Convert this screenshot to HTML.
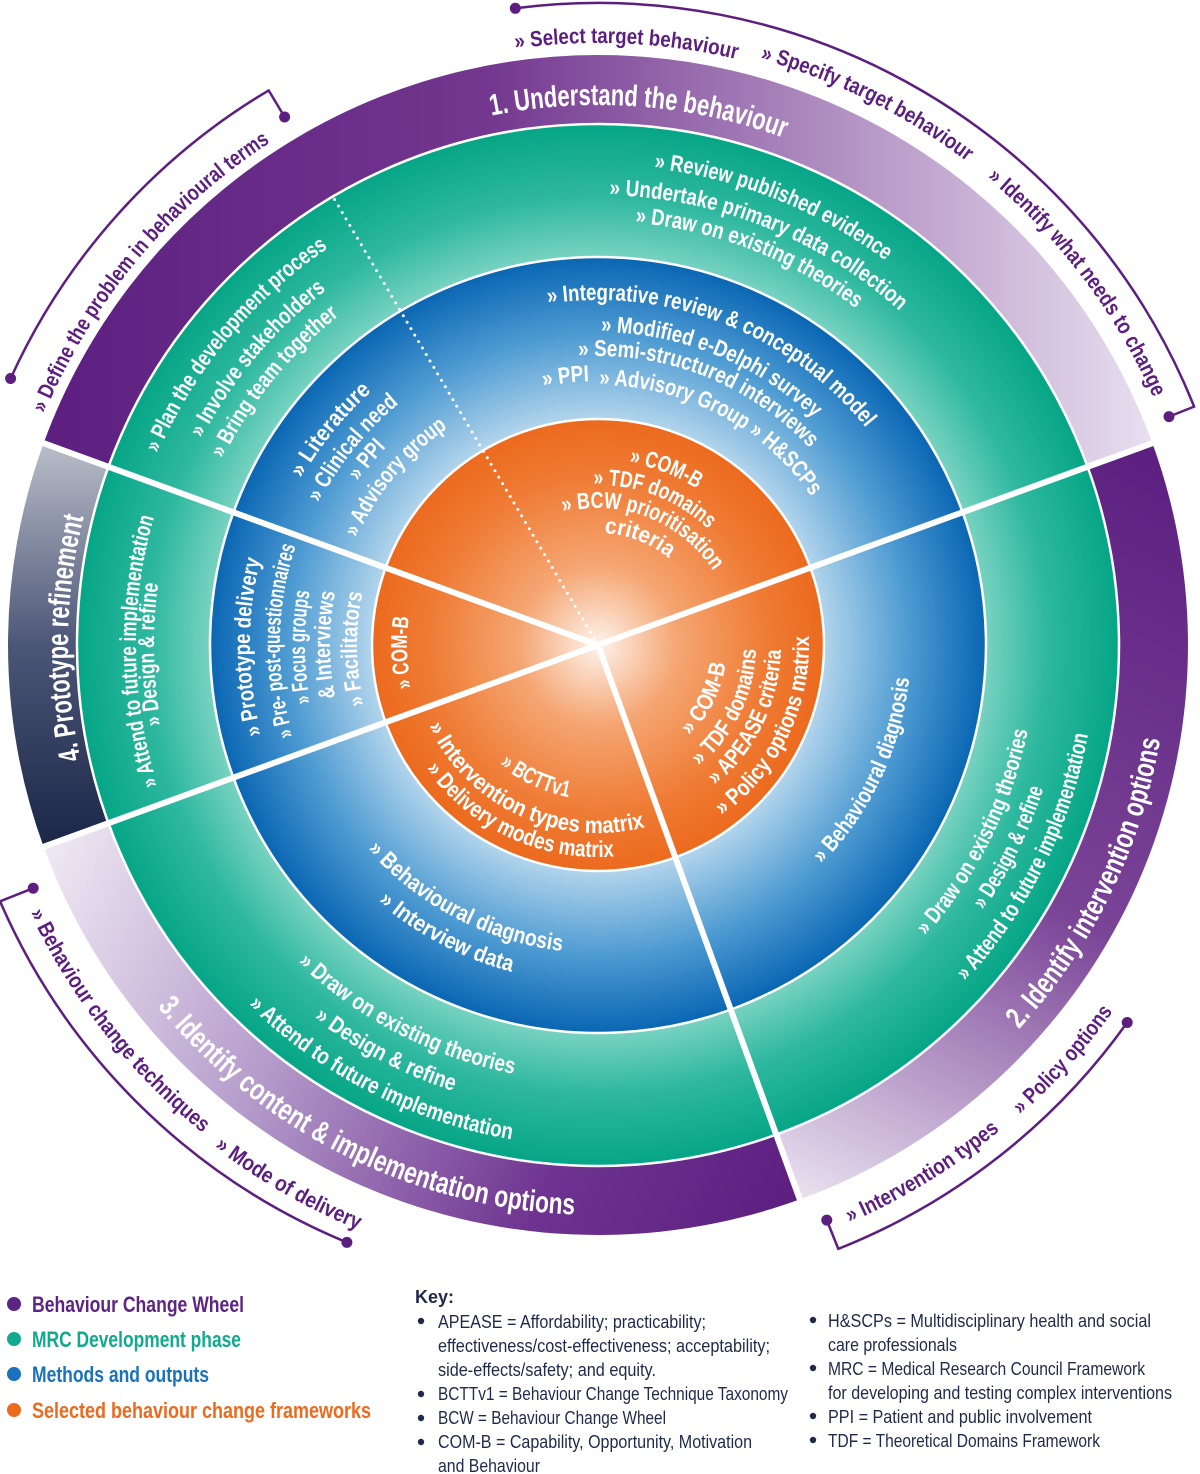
<!DOCTYPE html>
<html><head><meta charset="utf-8"><style>
html,body{margin:0;padding:0;background:#fff;}
svg{display:block;}
.w{fill:#fff;font-family:"Liberation Sans Narrow","Liberation Sans",sans-serif;font-weight:bold;font-size:23px;}
.t{fill:#fff;font-family:"Liberation Sans Narrow","Liberation Sans",sans-serif;font-weight:bold;font-size:30px;}
.p{fill:#5c1f80;font-family:"Liberation Sans Narrow","Liberation Sans",sans-serif;font-weight:bold;font-size:22px;}
.lg{font-family:"Liberation Sans Narrow","Liberation Sans",sans-serif;font-weight:bold;font-size:22px;}
.k{fill:#1f2a4a;font-family:"Liberation Sans Narrow","Liberation Sans",sans-serif;font-size:18px;}
</style></head><body>
<svg width="1200" height="1474" viewBox="0 0 1200 1474" xmlns="http://www.w3.org/2000/svg">
<defs>
<radialGradient id="gOr" gradientUnits="userSpaceOnUse" cx="598" cy="645" r="226">
<stop offset="0" stop-color="#fdf3ec"/><stop offset="0.35" stop-color="#f5a673"/><stop offset="0.75" stop-color="#ef7b34"/><stop offset="1" stop-color="#ec6a1e"/></radialGradient>
<radialGradient id="gBl" gradientUnits="userSpaceOnUse" cx="598" cy="645" r="388">
<stop offset="0.58" stop-color="#b3d5ec"/><stop offset="0.8" stop-color="#4e9bd2"/><stop offset="1" stop-color="#0a66b3"/></radialGradient>
<radialGradient id="gGr" gradientUnits="userSpaceOnUse" cx="598" cy="645" r="522">
<stop offset="0.74" stop-color="#7ad3c2"/><stop offset="0.86" stop-color="#2eb89f"/><stop offset="1" stop-color="#05a586"/></radialGradient>
<linearGradient id="s1" gradientUnits="userSpaceOnUse" x1="40" y1="300" x2="1155" y2="300">
<stop offset="0" stop-color="#5c1f80"/><stop offset="0.4" stop-color="#73378f"/><stop offset="1" stop-color="#e9e0f0"/></linearGradient>
<linearGradient id="s2" gradientUnits="userSpaceOnUse" x1="1150" y1="445" x2="790" y2="1200">
<stop offset="0" stop-color="#5c1f80"/><stop offset="0.55" stop-color="#7a4497"/><stop offset="1" stop-color="#ebe4f1"/></linearGradient>
<linearGradient id="s3" gradientUnits="userSpaceOnUse" x1="40" y1="850" x2="800" y2="1200">
<stop offset="0" stop-color="#f0eaf5"/><stop offset="0.35" stop-color="#b59ccb"/><stop offset="0.72" stop-color="#6e3390"/><stop offset="1" stop-color="#5c1f80"/></linearGradient>
<linearGradient id="s4" gradientUnits="userSpaceOnUse" x1="60" y1="445" x2="60" y2="845">
<stop offset="0" stop-color="#b8bdc8"/><stop offset="0.5" stop-color="#4c5677"/><stop offset="1" stop-color="#1b2748"/></linearGradient>
<path id="cw540" d="M598 1185 A540 540 0 1 1 598 105 A540 540 0 1 1 598 1185"/>
<path id="cw602" d="M598 1247 A602 602 0 1 1 598 43 A602 602 0 1 1 598 1247"/>
<path id="cw608" d="M598 1253 A608 608 0 1 1 598 37 A608 608 0 1 1 598 1253"/>
<path id="cw600" d="M598 1245 A600 600 0 1 1 598 45 A600 600 0 1 1 598 1245"/>
<path id="cw480" d="M598 1125 A480 480 0 1 1 598 165 A480 480 0 1 1 598 1125"/>
<path id="cw450" d="M598 1095 A450 450 0 1 1 598 195 A450 450 0 1 1 598 1095"/>
<path id="cw424" d="M598 1069 A424 424 0 1 1 598 221 A424 424 0 1 1 598 1069"/>
<path id="cw447" d="M598 1092 A447 447 0 1 1 598 198 A447 447 0 1 1 598 1092"/>
<path id="cw419" d="M598 1064 A419 419 0 1 1 598 226 A419 419 0 1 1 598 1064"/>
<path id="cw340" d="M598 985 A340 340 0 1 1 598 305 A340 340 0 1 1 598 985"/>
<path id="cw313" d="M598 958 A313 313 0 1 1 598 332 A313 313 0 1 1 598 958"/>
<path id="cw290" d="M598 935 A290 290 0 1 1 598 355 A290 290 0 1 1 598 935"/>
<path id="cw264" d="M598 909 A264 264 0 1 1 598 381 A264 264 0 1 1 598 909"/>
<path id="cw345" d="M598 990 A345 345 0 1 1 598 300 A345 345 0 1 1 598 990"/>
<path id="cw289" d="M598 934 A289 289 0 1 1 598 356 A289 289 0 1 1 598 934"/>
<path id="cw260" d="M598 905 A260 260 0 1 1 598 385 A260 260 0 1 1 598 905"/>
<path id="cw185" d="M598 830 A185 185 0 1 1 598 460 A185 185 0 1 1 598 830"/>
<path id="cw160" d="M598 805 A160 160 0 1 1 598 485 A160 160 0 1 1 598 805"/>
<path id="cw137" d="M598 782 A137 137 0 1 1 598 508 A137 137 0 1 1 598 782"/>
<path id="cw112" d="M598 757 A112 112 0 1 1 598 533 A112 112 0 1 1 598 757"/>
<path id="cw530" d="M598 1175 A530 530 0 1 1 598 115 A530 530 0 1 1 598 1175"/>
<path id="cw462" d="M598 1107 A462 462 0 1 1 598 183 A462 462 0 1 1 598 1107"/>
<path id="cw444" d="M598 1089 A444 444 0 1 1 598 201 A444 444 0 1 1 598 1089"/>
<path id="cw348" d="M598 993 A348 348 0 1 1 598 297 A348 348 0 1 1 598 993"/>
<path id="cw318" d="M598 963 A318 318 0 1 1 598 327 A318 318 0 1 1 598 963"/>
<path id="cw293" d="M598 938 A293 293 0 1 1 598 352 A293 293 0 1 1 598 938"/>
<path id="cw268" d="M598 913 A268 268 0 1 1 598 377 A268 268 0 1 1 598 913"/>
<path id="cw241" d="M598 886 A241 241 0 1 1 598 404 A241 241 0 1 1 598 886"/>
<path id="cw191" d="M598 836 A191 191 0 1 1 598 454 A191 191 0 1 1 598 836"/>
<path id="ccw570" d="M598 75 A570 570 0 1 0 598 1215 A570 570 0 1 0 598 75"/>
<path id="ccw630" d="M598 15 A630 630 0 1 0 598 1275 A630 630 0 1 0 598 15"/>
<path id="ccw632" d="M598 13 A632 632 0 1 0 598 1277 A632 632 0 1 0 598 13"/>
<path id="ccw628" d="M598 17 A628 628 0 1 0 598 1273 A628 628 0 1 0 598 17"/>
<path id="ccw438" d="M598 207 A438 438 0 1 0 598 1083 A438 438 0 1 0 598 207"/>
<path id="ccw468" d="M598 177 A468 468 0 1 0 598 1113 A468 468 0 1 0 598 177"/>
<path id="ccw498" d="M598 147 A498 498 0 1 0 598 1143 A498 498 0 1 0 598 147"/>
<path id="ccw313" d="M598 332 A313 313 0 1 0 598 958 A313 313 0 1 0 598 332"/>
<path id="ccw129" d="M598 516 A129 129 0 1 0 598 774 A129 129 0 1 0 598 516"/>
<path id="ccw158" d="M598 487 A158 158 0 1 0 598 803 A158 158 0 1 0 598 487"/>
<path id="ccw183" d="M598 462 A183 183 0 1 0 598 828 A183 183 0 1 0 598 462"/>
<path id="ccw211" d="M598 434 A211 211 0 1 0 598 856 A211 211 0 1 0 598 434"/>
<path id="ccw155" d="M598 490 A155 155 0 1 0 598 800 A155 155 0 1 0 598 490"/>
<path id="ccw188" d="M598 457 A188 188 0 1 0 598 833 A188 188 0 1 0 598 457"/>
<path id="ccw212" d="M598 433 A212 212 0 1 0 598 857 A212 212 0 1 0 598 433"/>
<path id="ccw308" d="M598 337 A308 308 0 1 0 598 953 A308 308 0 1 0 598 337"/>
<path id="ccw338" d="M598 307 A338 338 0 1 0 598 983 A338 338 0 1 0 598 307"/>
<path id="ccw437" d="M598 208 A437 437 0 1 0 598 1082 A437 437 0 1 0 598 208"/>
<path id="ccw469" d="M598 176 A469 469 0 1 0 598 1114 A469 469 0 1 0 598 176"/>
<path id="ccw502" d="M598 143 A502 502 0 1 0 598 1147 A502 502 0 1 0 598 143"/>
</defs>

<path d="M43.6 443.2 A590 590 0 0 1 1152.4 443.2 L1088.5 466.5 A522 522 0 0 0 107.5 466.5 Z" fill="url(#s1)"/>
<path d="M1152.4 443.2 A590 590 0 0 1 799.8 1199.4 L776.5 1135.5 A522 522 0 0 0 1088.5 466.5 Z" fill="url(#s2)"/>
<path d="M799.8 1199.4 A590 590 0 0 1 43.6 846.8 L107.5 823.5 A522 522 0 0 0 776.5 1135.5 Z" fill="url(#s3)"/>
<path d="M43.6 846.8 A590 590 0 0 1 43.6 443.2 L107.5 466.5 A522 522 0 0 0 107.5 823.5 Z" fill="url(#s4)"/>

<circle cx="598" cy="645" r="521" fill="url(#gGr)" stroke="#fff" stroke-width="2.5"/>
<circle cx="598" cy="645" r="388" fill="url(#gBl)" stroke="#fff" stroke-width="2.5"/>
<circle cx="598" cy="645" r="226" fill="url(#gOr)" stroke="#fff" stroke-width="2.5"/>

<g stroke="#fff" stroke-width="6">
<line x1="598" y1="645" x2="1154.3" y2="442.5"/>
<line x1="598" y1="645" x2="800.5" y2="1201.3"/>
<line x1="598" y1="645" x2="41.7" y2="847.5"/>
<line x1="598" y1="645" x2="41.7" y2="442.5"/>
</g>
<line x1="598" y1="645" x2="333.3" y2="197.4" stroke="#fff" stroke-width="3" stroke-dasharray="0 7.5" stroke-linecap="round"/>

<g stroke="#5c1f80" stroke-width="2.5" fill="none">
<path d="M515.3 8.3 A642 642 0 0 1 1194.1 406.6 L1169 416.6"/>
<path d="M284.6 117 L268.7 90.4 A645 645 0 0 0 10.6 378.5"/>
<path d="M33.2 888.2 L0 901.3 A648 648 0 0 0 346.9 1242.4"/>
<path d="M826.8 1220.1 L838.3 1248.9 A650 650 0 0 0 1127.2 1022.5"/>
</g>
<g fill="#5c1f80">
<circle cx="515.3" cy="8.3" r="5.5"/><circle cx="1169" cy="416.6" r="5.5"/>
<circle cx="284.6" cy="117" r="5.5"/><circle cx="10.6" cy="378.5" r="5.5"/>
<circle cx="33.2" cy="888.2" r="5.5"/><circle cx="346.9" cy="1242.4" r="5.5"/>
<circle cx="826.8" cy="1220.1" r="5.5"/><circle cx="1127.2" cy="1022.5" r="5.5"/>
</g>

<text class="t" textLength="297" lengthAdjust="spacingAndGlyphs"><textPath href="#cw540" startOffset="1589">1. Understand the behaviour</textPath></text>
<text class="t" textLength="327" lengthAdjust="spacingAndGlyphs"><textPath href="#ccw570" startOffset="2264">2. Identify intervention options</textPath></text>
<text class="t" textLength="480" lengthAdjust="spacingAndGlyphs"><textPath href="#ccw570" startOffset="1287">3. Identify content &amp; implementation options</textPath></text>
<text class="t" textLength="245" lengthAdjust="spacingAndGlyphs"><textPath href="#cw530" startOffset="717">4. Prototype refinement</textPath></text>

<text class="p" textLength="223" lengthAdjust="spacingAndGlyphs"><textPath href="#cw602" startOffset="1808">» Select target behaviour</textPath></text>
<text class="p" textLength="232" lengthAdjust="spacingAndGlyphs"><textPath href="#cw608" startOffset="2074">» Specify target behaviour</textPath></text>
<text class="p" textLength="278" lengthAdjust="spacingAndGlyphs"><textPath href="#cw608" startOffset="2332">» Identify what needs to change</textPath></text>
<text class="p" textLength="358" lengthAdjust="spacingAndGlyphs"><textPath href="#cw600" startOffset="1180">» Define the problem in behavioural terms</textPath></text>
<text class="p" textLength="177" lengthAdjust="spacingAndGlyphs"><textPath href="#ccw630" startOffset="2238">» Intervention types</textPath></text>
<text class="p" textLength="139" lengthAdjust="spacingAndGlyphs"><textPath href="#ccw632" startOffset="2448">» Policy options</textPath></text>
<text class="p" textLength="282" lengthAdjust="spacingAndGlyphs"><textPath href="#ccw628" startOffset="1263">» Behaviour change techniques</textPath></text>
<text class="p" textLength="166" lengthAdjust="spacingAndGlyphs"><textPath href="#ccw632" startOffset="1573">» Mode of delivery</textPath></text>

<text class="w" textLength="252" lengthAdjust="spacingAndGlyphs"><textPath href="#cw480" startOffset="1564">» Review published evidence</textPath></text>
<text class="w" textLength="319" lengthAdjust="spacingAndGlyphs"><textPath href="#cw450" startOffset="1425">» Undertake primary data collection</textPath></text>
<text class="w" textLength="240" lengthAdjust="spacingAndGlyphs"><textPath href="#cw424" startOffset="1369">» Draw on existing theories</textPath></text>
<text class="w" textLength="270" lengthAdjust="spacingAndGlyphs"><textPath href="#cw480" startOffset="951">» Plan the development process</textPath></text>
<text class="w" textLength="195" lengthAdjust="spacingAndGlyphs"><textPath href="#cw447" startOffset="917">» Involve stakeholders</textPath></text>
<text class="w" textLength="186" lengthAdjust="spacingAndGlyphs"><textPath href="#cw419" startOffset="851">» Bring team together</textPath></text>
<text class="w" textLength="112" lengthAdjust="spacingAndGlyphs"><textPath href="#cw340" startOffset="708">» Literature</textPath></text>
<text class="w" textLength="128" lengthAdjust="spacingAndGlyphs"><textPath href="#cw313" startOffset="639">» Clinical need</textPath></text>
<text class="w" textLength="44" lengthAdjust="spacingAndGlyphs"><textPath href="#cw290" startOffset="629">» PPI</textPath></text>
<text class="w" textLength="144" lengthAdjust="spacingAndGlyphs"><textPath href="#cw264" startOffset="525">» Advisory group</textPath></text>
<text class="w" textLength="357" lengthAdjust="spacingAndGlyphs"><textPath href="#cw345" startOffset="1033">» Integrative review &amp; conceptual model</textPath></text>
<text class="w" textLength="235" lengthAdjust="spacingAndGlyphs"><textPath href="#cw313" startOffset="986">» Modified e-Delphi survey</textPath></text>
<text class="w" textLength="257" lengthAdjust="spacingAndGlyphs"><textPath href="#cw289" startOffset="888">» Semi-structured interviews</textPath></text>
<text class="w" textLength="46" lengthAdjust="spacingAndGlyphs"><textPath href="#cw264" startOffset="774">» PPI</textPath></text>
<text class="w" textLength="249" lengthAdjust="spacingAndGlyphs"><textPath href="#cw260" startOffset="818">» Advisory Group  » H&amp;SCPs</textPath></text>
<text class="w" text-anchor="middle" textLength="73" lengthAdjust="spacingAndGlyphs"><textPath href="#cw185" startOffset="649">» COM-B</textPath></text>
<text class="w" text-anchor="middle" textLength="126" lengthAdjust="spacingAndGlyphs"><textPath href="#cw160" startOffset="561">» TDF domains</textPath></text>
<text class="w" text-anchor="middle" textLength="172" lengthAdjust="spacingAndGlyphs"><textPath href="#cw137" startOffset="481">» BCW prioritisation</textPath></text>
<text class="w" text-anchor="middle" textLength="70" lengthAdjust="spacingAndGlyphs"><textPath href="#cw112" startOffset="393">criteria</textPath></text>

<text class="w" textLength="272" lengthAdjust="spacingAndGlyphs"><textPath href="#cw462" startOffset="583">» Attend to future implementation</textPath></text>
<text class="w" textLength="142" lengthAdjust="spacingAndGlyphs"><textPath href="#cw444" startOffset="617">» Design &amp; refine</textPath></text>
<text class="w" textLength="177" lengthAdjust="spacingAndGlyphs"><textPath href="#cw348" startOffset="456">» Prototype delivery</textPath></text>
<text class="w" textLength="193" lengthAdjust="spacingAndGlyphs"><textPath href="#cw318" startOffset="407">» Pre- post-questionnaires</textPath></text>
<text class="w" textLength="112" lengthAdjust="spacingAndGlyphs"><textPath href="#cw293" startOffset="402">» Focus groups</textPath></text>
<text class="w" textLength="106" lengthAdjust="spacingAndGlyphs"><textPath href="#cw268" startOffset="368">&amp; Interviews</textPath></text>
<text class="w" textLength="113" lengthAdjust="spacingAndGlyphs"><textPath href="#cw241" startOffset="318">» Facilitators</textPath></text>
<text class="w" textLength="71" lengthAdjust="spacingAndGlyphs"><textPath href="#cw191" startOffset="257">» COM-B</textPath></text>

<text class="w" textLength="232" lengthAdjust="spacingAndGlyphs"><textPath href="#ccw438" startOffset="1746">» Draw on existing theories</textPath></text>
<text class="w" textLength="136" lengthAdjust="spacingAndGlyphs"><textPath href="#ccw468" startOffset="1923">» Design &amp; refine</textPath></text>
<text class="w" textLength="279" lengthAdjust="spacingAndGlyphs"><textPath href="#ccw498" startOffset="1978">» Attend to future implementation</textPath></text>
<text class="w" textLength="209" lengthAdjust="spacingAndGlyphs"><textPath href="#ccw313" startOffset="1232">» Behavioural diagnosis</textPath></text>
<text class="w" textLength="82" lengthAdjust="spacingAndGlyphs"><textPath href="#ccw129" startOffset="507">» COM-B</textPath></text>
<text class="w" textLength="134" lengthAdjust="spacingAndGlyphs"><textPath href="#ccw158" startOffset="606">» TDF domains</textPath></text>
<text class="w" textLength="155" lengthAdjust="spacingAndGlyphs"><textPath href="#ccw183" startOffset="702">» APEASE criteria</textPath></text>
<text class="w" textLength="208" lengthAdjust="spacingAndGlyphs"><textPath href="#ccw211" startOffset="795">» Policy options matrix</textPath></text>

<text class="w" textLength="77" lengthAdjust="spacingAndGlyphs"><textPath href="#ccw155" startOffset="380">» BCTTv1</textPath></text>
<text class="w" textLength="259" lengthAdjust="spacingAndGlyphs"><textPath href="#ccw188" startOffset="379">» Intervention types matrix</textPath></text>
<text class="w" textLength="217" lengthAdjust="spacingAndGlyphs"><textPath href="#ccw212" startOffset="465">» Delivery modes matrix</textPath></text>
<text class="w" textLength="224" lengthAdjust="spacingAndGlyphs"><textPath href="#ccw308" startOffset="707">» Behavioural diagnosis</textPath></text>
<text class="w" textLength="152" lengthAdjust="spacingAndGlyphs"><textPath href="#ccw338" startOffset="822">» Interview data</textPath></text>
<text class="w" textLength="246" lengthAdjust="spacingAndGlyphs"><textPath href="#ccw437" startOffset="1042">» Draw on existing theories</textPath></text>
<text class="w" textLength="158" lengthAdjust="spacingAndGlyphs"><textPath href="#ccw469" startOffset="1168">» Design &amp; refine</textPath></text>
<text class="w" textLength="300" lengthAdjust="spacingAndGlyphs"><textPath href="#ccw502" startOffset="1190">» Attend to future implementation</textPath></text>

<circle cx="14" cy="1304" r="7" fill="#5c2483"/>
<circle cx="14" cy="1339" r="7" fill="#12a98e"/>
<circle cx="14" cy="1374" r="7" fill="#1a72bc"/>
<circle cx="14" cy="1410" r="7" fill="#ec6a1e"/>
<text class="lg" x="32" y="1312" fill="#5c2483" textLength="212" lengthAdjust="spacingAndGlyphs">Behaviour Change Wheel</text>
<text class="lg" x="32" y="1347" fill="#12a98e" textLength="209" lengthAdjust="spacingAndGlyphs">MRC Development phase</text>
<text class="lg" x="32" y="1382" fill="#1a72bc" textLength="177" lengthAdjust="spacingAndGlyphs">Methods and outputs</text>
<text class="lg" x="32" y="1418" fill="#ec6a1e" textLength="339" lengthAdjust="spacingAndGlyphs">Selected behaviour change frameworks</text>

<text class="k" x="415" y="1303" font-weight="bold" font-size="17">Key:</text>
<g fill="#1f2a4a">
<circle cx="421" cy="1321" r="3.2"/><circle cx="421" cy="1394" r="3.2"/><circle cx="421" cy="1418" r="3.2"/><circle cx="421" cy="1442" r="3.2"/>
<circle cx="813" cy="1320" r="3.2"/><circle cx="813" cy="1368" r="3.2"/><circle cx="813" cy="1416" r="3.2"/><circle cx="813" cy="1440" r="3.2"/>
</g>
<text class="k" x="438" y="1328" textLength="268" lengthAdjust="spacingAndGlyphs">APEASE = Affordability; practicability;</text>
<text class="k" x="438" y="1352" textLength="332" lengthAdjust="spacingAndGlyphs">effectiveness/cost-effectiveness; acceptability;</text>
<text class="k" x="438" y="1376" textLength="218" lengthAdjust="spacingAndGlyphs">side-effects/safety; and equity.</text>
<text class="k" x="438" y="1400" textLength="350" lengthAdjust="spacingAndGlyphs">BCTTv1 = Behaviour Change Technique Taxonomy</text>
<text class="k" x="438" y="1424" textLength="228" lengthAdjust="spacingAndGlyphs">BCW = Behaviour Change Wheel</text>
<text class="k" x="438" y="1448" textLength="314" lengthAdjust="spacingAndGlyphs">COM-B = Capability, Opportunity, Motivation</text>
<text class="k" x="438" y="1472" textLength="102" lengthAdjust="spacingAndGlyphs">and Behaviour</text>
<text class="k" x="828" y="1327" textLength="323" lengthAdjust="spacingAndGlyphs">H&amp;SCPs = Multidisciplinary health and social</text>
<text class="k" x="828" y="1351" textLength="129" lengthAdjust="spacingAndGlyphs">care professionals</text>
<text class="k" x="828" y="1375" textLength="317" lengthAdjust="spacingAndGlyphs">MRC = Medical Research Council Framework</text>
<text class="k" x="828" y="1399" textLength="344" lengthAdjust="spacingAndGlyphs">for developing and testing complex interventions</text>
<text class="k" x="828" y="1423" textLength="264" lengthAdjust="spacingAndGlyphs">PPI = Patient and public involvement</text>
<text class="k" x="828" y="1447" textLength="272" lengthAdjust="spacingAndGlyphs">TDF = Theoretical Domains Framework</text>
</svg>
</body></html>
